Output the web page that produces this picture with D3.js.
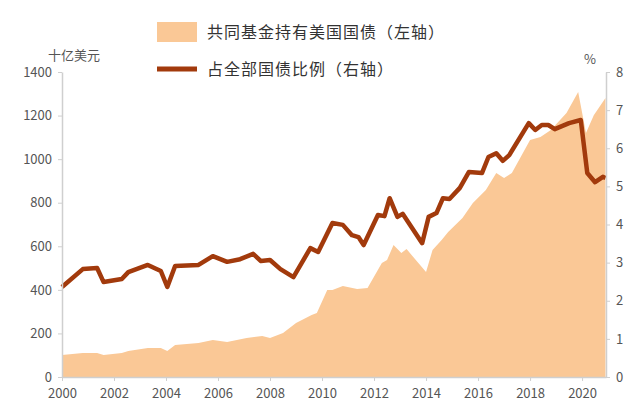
<!DOCTYPE html>
<html><head><meta charset="utf-8">
<script src="https://cdn.jsdelivr.net/npm/d3@7"></script>
<style>body{margin:0;background:#fff}text{font-family:"Noto Sans CJK SC","Noto Sans",sans-serif}</style>
</head><body><svg id="c" width="640" height="414"></svg>
<script>
const areaYears=[2000,2000.8,2001.35,2001.6,2002.3,2002.55,2003.3,2003.8,2004.05,2004.35,2005.25,2005.8,2006.35,2007.1,2007.7,2008.0,2008.5,2009.0,2009.6,2009.8,2010.2,2010.4,2010.8,2011.35,2011.75,2012.3,2012.5,2012.75,2013.05,2013.25,2014.0,2014.25,2014.6,2014.85,2015.4,2015.8,2016.3,2016.7,2017.0,2017.3,2018.0,2018.4,2018.8,2019.4,2019.85,2020.15,2020.45,2020.9];
const fundHoldings=[101,110,110,101,110,119,133,133,119,147,156,170,161,179,188,179,202,248,285,294,399,399,418,404,408,523,537,606,569,587,482,583,629,666,730,799,858,936,913,936,1088,1102,1134,1212,1308,1120,1202,1281];
const ratioYears=[2000,2000.8,2001.35,2001.6,2002.3,2002.55,2003.3,2003.8,2004.05,2004.35,2005.25,2005.8,2006.35,2006.85,2007.35,2007.65,2008.0,2008.4,2008.9,2009.55,2009.85,2010.4,2010.8,2011.15,2011.4,2011.6,2012.15,2012.4,2012.6,2012.9,2013.1,2013.85,2014.1,2014.4,2014.65,2014.9,2015.3,2015.65,2016.15,2016.4,2016.7,2016.95,2017.2,2017.95,2018.2,2018.45,2018.7,2018.95,2019.5,2019.95,2020.2,2020.5,2020.8,2020.9];
const ratio=[2.36,2.83,2.86,2.49,2.57,2.75,2.94,2.78,2.36,2.91,2.94,3.17,3.02,3.09,3.23,3.04,3.07,2.83,2.62,3.38,3.28,4.04,3.99,3.72,3.67,3.46,4.25,4.22,4.69,4.2,4.28,3.51,4.2,4.3,4.69,4.67,4.96,5.38,5.35,5.77,5.87,5.67,5.82,6.66,6.48,6.61,6.61,6.5,6.66,6.74,5.35,5.11,5.25,5.22];
const leftTicks=[0,200,400,600,800,1000,1200,1400];
const rightTicks=[0,1,2,3,4,5,6,7,8];
const xTicks=[2000,2002,2004,2006,2008,2010,2012,2014,2016,2018,2020];
const legend=["共同基金持有美国国债（左轴）","占全部国债比例（右轴）"];

const svg=d3.select("#c");
const L=62,R=606,T=72,B=377;
const x=d3.scaleLinear().domain([2000,2020.92]).range([L,R]);
const yL=d3.scaleLinear().domain([0,1400]).range([B,T]);
const yR=d3.scaleLinear().domain([0,8]).range([B,T]);
const AC="#fac896",LC="#a23a0c",GC="#cfcfcf",TC="#555";

svg.append("path").datum(areaYears.map((d,i)=>[d,fundHoldings[i]]))
 .attr("fill",AC).attr("d",d3.area().x(d=>x(d[0])).y0(B).y1(d=>yL(d[1])));
svg.append("path").datum(ratioYears.map((d,i)=>[d,ratio[i]]))
 .attr("fill","none").attr("stroke",LC).attr("stroke-width",4.5).attr("stroke-linejoin","round")
 .attr("d",d3.line().x(d=>x(d[0])).y(d=>yR(d[1])));

function style(g){g.select(".domain").attr("stroke",GC).attr("stroke-width",1.5);g.selectAll(".tick line").attr("stroke",GC);g.selectAll("text").attr("fill",TC).attr("font-size",13).attr("font-family","Liberation Sans, Arial, sans-serif");}
svg.append("g").attr("transform",`translate(${L},0)`).call(d3.axisLeft(yL).tickValues(leftTicks).tickFormat(d3.format("d")).tickSize(4).tickSizeOuter(0).tickPadding(6)).call(style);
svg.append("g").attr("transform",`translate(${R},0)`).call(d3.axisRight(yR).tickValues(rightTicks).tickSize(4).tickSizeOuter(0).tickPadding(6)).call(style);
svg.append("g").attr("transform",`translate(0,${B})`).call(d3.axisBottom(x).tickValues(xTicks).tickFormat(d3.format("d")).tickSize(4).tickSizeOuter(0).tickPadding(8)).call(style);

svg.append("text").attr("x",48).attr("y",60).attr("font-size",13).attr("fill",TC).text("十亿美元");
svg.append("text").attr("x",584).attr("y",64).attr("font-size",13).attr("fill",TC).text("%");
svg.append("rect").attr("x",157).attr("y",22).attr("width",40).attr("height",20).attr("fill",AC);
svg.append("line").attr("x1",157).attr("x2",197).attr("y1",69).attr("y2",69).attr("stroke",LC).attr("stroke-width",5);
svg.append("text").attr("x",207).attr("y",38).attr("font-size",16).attr("fill","#333").attr("letter-spacing",1).text(legend[0]);
svg.append("text").attr("x",207).attr("y",75).attr("font-size",16).attr("fill","#333").attr("letter-spacing",1).text(legend[1]);
</script></body></html>
